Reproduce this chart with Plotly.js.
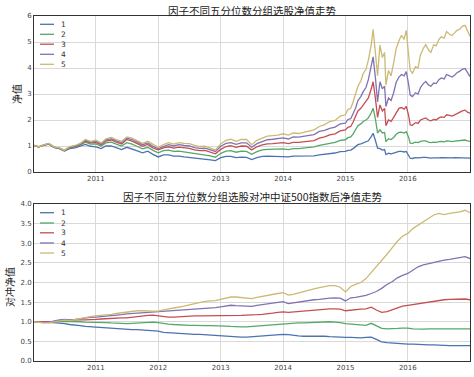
<!DOCTYPE html>
<html>
<head>
<meta charset="utf-8">
<script src="https://cdn.plot.ly/plotly-3.0.1.min.js"></script>
<style>html,body{margin:0;padding:0;background:#fff;}#chart{width:474px;height:377px;}</style>
</head>
<body>
<div id="chart"></div>
<script>
// ---------- Data ----------
const seriesNames = ["1", "2", "3", "4", "5"];
const colors = ["#4C72B0", "#55A868", "#C44E52", "#8172B2", "#CCB974"];

const topTitle = "因子不同五分位数分组选股净值走势";
const bottomTitle = "因子不同五分位数分组选股对冲中证500指数后净值走势";
const topYLabel = "净值";
const bottomYLabel = "对冲净值";

const topDates = [
"2010-01-04","2010-02-01","2010-03-01","2010-04-01","2010-05-01","2010-06-01","2010-07-01","2010-08-01","2010-09-01","2010-10-01","2010-11-01","2010-12-01",
"2011-01-01","2011-02-01","2011-03-01","2011-04-01","2011-05-01","2011-06-01","2011-07-01","2011-08-01","2011-09-01","2011-10-01","2011-11-01","2011-12-01",
"2012-01-01","2012-02-01","2012-03-01","2012-04-01","2012-05-01","2012-06-01","2012-07-01","2012-08-01","2012-09-01","2012-10-01","2012-11-01","2012-12-01",
"2013-01-01","2013-02-01","2013-03-01","2013-04-01","2013-05-01","2013-06-01","2013-07-01","2013-08-01","2013-09-01","2013-10-01","2013-11-01","2013-12-01",
"2014-01-01","2014-02-01","2014-03-01","2014-04-01","2014-05-01","2014-06-01","2014-07-01","2014-08-01","2014-09-01","2014-10-01","2014-11-01","2014-12-01",
"2015-01-01","2015-01-15","2015-02-01","2015-02-15","2015-03-01","2015-03-15","2015-04-01","2015-04-15","2015-05-01","2015-05-15","2015-06-01","2015-06-12","2015-06-25",
"2015-07-08","2015-07-22","2015-08-05","2015-08-18","2015-08-26","2015-09-10","2015-09-25","2015-10-10","2015-10-25","2015-11-10","2015-11-25","2015-12-10","2015-12-23",
"2016-01-05","2016-01-15","2016-01-28","2016-02-15","2016-03-01","2016-03-15","2016-04-01","2016-04-15","2016-05-01","2016-05-15","2016-06-01","2016-06-15",
"2016-07-01","2016-07-15","2016-08-01","2016-08-15","2016-09-01","2016-09-15","2016-10-01","2016-10-15","2016-11-01","2016-11-15","2016-12-01","2016-12-15","2016-12-30"
];

const top1 = [
1.01,0.97,1.02,1.07,0.95,0.90,0.81,0.90,0.93,0.98,1.06,0.99,
0.97,0.90,1.00,1.00,0.93,0.86,0.95,0.89,0.81,0.74,0.80,0.68,
0.58,0.66,0.66,0.61,0.61,0.58,0.56,0.53,0.51,0.51,0.47,0.44,
0.55,0.60,0.60,0.55,0.57,0.56,0.48,0.55,0.60,0.61,0.60,0.60,
0.60,0.58,0.61,0.61,0.62,0.61,0.62,0.66,0.68,0.72,0.73,0.78,
0.79,0.83,0.84,0.90,0.98,1.05,1.08,1.11,1.15,1.20,1.36,1.49,1.22,
0.92,0.90,0.84,0.86,0.67,0.72,0.70,0.73,0.77,0.79,0.79,0.77,0.79,
0.67,0.53,0.52,0.55,0.54,0.56,0.56,0.56,0.54,0.53,0.54,0.53,
0.54,0.55,0.54,0.55,0.55,0.54,0.55,0.55,0.55,0.55,0.55,0.54,0.53
];
const top2 = [
1.01,0.97,1.03,1.08,0.95,0.91,0.82,0.93,0.97,1.03,1.15,1.07,
1.08,1.00,1.12,1.15,1.07,1.00,1.13,1.07,0.98,0.89,0.95,0.83,
0.74,0.82,0.84,0.79,0.80,0.77,0.75,0.70,0.67,0.67,0.62,0.57,
0.72,0.80,0.82,0.76,0.80,0.79,0.68,0.78,0.85,0.87,0.87,0.87,
0.89,0.86,0.90,0.90,0.92,0.95,0.97,1.02,1.06,1.11,1.14,1.22,
1.24,1.32,1.35,1.47,1.62,1.78,1.85,1.94,2.00,2.08,2.28,2.45,2.05,
1.50,1.62,1.50,1.52,1.17,1.28,1.25,1.33,1.45,1.52,1.53,1.50,1.55,
1.35,1.11,1.10,1.15,1.13,1.18,1.20,1.20,1.15,1.13,1.15,1.14,
1.17,1.18,1.16,1.20,1.19,1.17,1.19,1.20,1.21,1.22,1.23,1.20,1.18
];
const top3 = [
1.02,0.97,1.03,1.09,0.96,0.92,0.83,0.95,0.99,1.06,1.19,1.12,
1.14,1.05,1.19,1.23,1.15,1.08,1.25,1.19,1.09,0.99,1.06,0.93,
0.85,0.93,0.97,0.92,0.96,0.93,0.91,0.85,0.82,0.83,0.76,0.70,
0.87,0.98,1.01,0.95,1.00,0.99,0.85,0.97,1.04,1.08,1.09,1.10,
1.13,1.09,1.14,1.14,1.17,1.19,1.21,1.30,1.35,1.43,1.47,1.58,
1.62,1.72,1.75,1.92,2.13,2.35,2.45,2.58,2.70,2.85,3.20,3.47,2.85,
2.10,2.58,2.35,2.45,1.78,2.00,1.95,2.10,2.30,2.45,2.48,2.42,2.52,
2.20,1.81,1.80,1.90,1.87,2.00,2.05,2.08,2.00,1.97,2.02,2.00,
2.08,2.12,2.10,2.20,2.18,2.15,2.20,2.25,2.30,2.35,2.38,2.30,2.26
];
const top4 = [
1.02,0.97,1.04,1.09,0.96,0.92,0.83,0.96,1.00,1.08,1.22,1.15,
1.18,1.09,1.24,1.28,1.20,1.13,1.30,1.25,1.15,1.05,1.12,0.99,
0.90,0.99,1.05,1.00,1.05,1.02,1.00,0.94,0.91,0.92,0.85,0.79,
0.99,1.10,1.13,1.06,1.12,1.12,0.95,1.09,1.17,1.24,1.26,1.28,
1.31,1.27,1.35,1.34,1.38,1.41,1.44,1.56,1.60,1.68,1.73,1.85,
1.88,2.02,2.05,2.25,2.45,2.75,2.90,3.09,3.25,3.55,4.05,4.43,3.65,
2.70,3.47,3.20,3.30,2.52,2.85,2.75,3.05,3.45,3.65,3.75,3.70,3.86,
3.40,2.96,2.90,3.05,3.00,3.25,3.40,3.48,3.35,3.30,3.42,3.40,
3.55,3.62,3.58,3.75,3.70,3.65,3.72,3.82,3.88,3.95,3.98,3.85,3.67
];
const top5 = [
1.02,0.97,1.04,1.10,0.97,0.93,0.84,0.98,1.02,1.10,1.25,1.18,
1.22,1.12,1.28,1.33,1.25,1.18,1.35,1.30,1.20,1.10,1.18,1.05,
0.95,1.05,1.13,1.07,1.13,1.10,1.09,1.02,0.98,0.99,0.92,0.85,
1.08,1.22,1.26,1.18,1.25,1.25,1.05,1.22,1.30,1.38,1.40,1.42,
1.47,1.42,1.50,1.48,1.52,1.58,1.62,1.75,1.82,1.94,1.98,2.15,
2.20,2.40,2.45,2.70,2.96,3.30,3.50,3.79,3.95,4.30,4.90,5.49,4.60,
3.70,4.88,4.40,4.60,3.34,3.90,3.70,4.20,4.75,5.05,5.26,5.10,5.45,
4.55,3.92,3.80,4.05,4.00,4.50,4.76,4.90,4.70,4.60,4.90,4.85,
5.10,5.20,5.15,5.40,5.30,5.25,5.35,5.45,5.50,5.60,5.64,5.45,5.22
];

const bottomDates = [
"2010-01-04","2010-02-01","2010-03-01","2010-04-01","2010-05-01","2010-06-01","2010-07-01","2010-08-01","2010-09-01","2010-10-01","2010-11-01","2010-12-01",
"2011-01-01","2011-02-01","2011-03-01","2011-04-01","2011-05-01","2011-06-01","2011-07-01","2011-08-01","2011-09-01","2011-10-01","2011-11-01","2011-12-01",
"2012-01-01","2012-02-01","2012-03-01","2012-04-01","2012-05-01","2012-06-01","2012-07-01","2012-08-01","2012-09-01","2012-10-01","2012-11-01","2012-12-01",
"2013-01-01","2013-02-01","2013-03-01","2013-04-01","2013-05-01","2013-06-01","2013-07-01","2013-08-01","2013-09-01","2013-10-01","2013-11-01","2013-12-01",
"2014-01-01","2014-02-01","2014-03-01","2014-04-01","2014-05-01","2014-06-01","2014-07-01","2014-08-01","2014-09-01","2014-10-01","2014-11-01","2014-12-01",
"2015-01-01","2015-02-01","2015-03-01","2015-04-01","2015-05-01","2015-06-01","2015-07-01","2015-08-01","2015-09-01","2015-10-01","2015-11-01","2015-12-01",
"2016-01-01","2016-02-01","2016-03-01","2016-04-01","2016-05-01","2016-06-01","2016-07-01","2016-08-01","2016-09-01","2016-10-01","2016-11-01","2016-12-01","2016-12-30"
];

const hedge1 = [
1.00,0.99,0.98,0.98,0.98,0.97,0.95,0.93,0.92,0.90,0.88,0.87,
0.86,0.85,0.84,0.83,0.82,0.81,0.80,0.80,0.80,0.79,0.79,0.78,
0.76,0.73,0.72,0.71,0.70,0.70,0.69,0.68,0.68,0.67,0.66,0.66,
0.65,0.64,0.62,0.61,0.61,0.61,0.62,0.63,0.64,0.65,0.66,0.67,
0.68,0.67,0.65,0.64,0.63,0.63,0.64,0.63,0.63,0.62,0.61,0.61,
0.60,0.60,0.59,0.59,0.60,0.61,0.55,0.49,0.47,0.46,0.44,0.43,
0.43,0.43,0.42,0.42,0.41,0.41,0.40,0.39,0.39,0.39,0.39,0.39,0.39
];
const hedge2 = [
1.00,1.00,0.99,1.00,1.00,1.01,1.01,1.00,1.00,1.00,0.99,0.99,
0.99,0.98,0.98,0.97,0.96,0.96,0.95,0.96,0.97,0.97,0.98,0.99,
0.98,0.95,0.94,0.93,0.92,0.92,0.91,0.91,0.90,0.90,0.90,0.90,
0.90,0.89,0.88,0.87,0.87,0.87,0.88,0.89,0.90,0.91,0.93,0.94,
0.95,0.95,0.96,0.97,0.97,0.98,0.98,0.99,1.00,1.00,0.99,0.98,
0.95,0.94,0.93,0.92,0.91,0.96,0.90,0.83,0.82,0.82,0.83,0.84,
0.84,0.82,0.81,0.81,0.82,0.82,0.82,0.82,0.82,0.82,0.82,0.82,0.82
];
const hedge3 = [
1.00,1.00,0.99,1.00,1.01,1.03,1.04,1.04,1.05,1.05,1.05,1.05,
1.06,1.07,1.08,1.08,1.09,1.10,1.10,1.12,1.14,1.15,1.16,1.17,
1.15,1.13,1.12,1.12,1.13,1.14,1.14,1.15,1.15,1.15,1.15,1.15,
1.15,1.16,1.16,1.16,1.16,1.17,1.17,1.18,1.19,1.20,1.22,1.24,
1.25,1.24,1.25,1.26,1.27,1.28,1.30,1.32,1.32,1.33,1.33,1.32,
1.28,1.30,1.31,1.32,1.33,1.37,1.30,1.24,1.26,1.30,1.36,1.40,
1.42,1.44,1.46,1.48,1.50,1.52,1.55,1.56,1.57,1.57,1.58,1.58,1.56
];
const hedge4 = [
1.00,0.99,0.98,0.99,1.02,1.05,1.06,1.05,1.06,1.08,1.10,1.11,
1.12,1.13,1.14,1.15,1.16,1.18,1.20,1.21,1.22,1.23,1.24,1.25,
1.25,1.27,1.28,1.28,1.29,1.30,1.31,1.31,1.33,1.34,1.35,1.36,
1.38,1.40,1.42,1.41,1.40,1.39,1.39,1.42,1.44,1.46,1.48,1.50,
1.51,1.46,1.48,1.50,1.52,1.54,1.56,1.57,1.59,1.60,1.61,1.60,
1.53,1.61,1.62,1.64,1.67,1.72,1.77,1.85,1.95,2.02,2.12,2.18,
2.23,2.32,2.40,2.45,2.48,2.52,2.55,2.57,2.59,2.61,2.64,2.66,2.61
];
const hedge5 = [
1.00,0.99,0.97,0.98,1.00,1.02,1.04,1.03,1.06,1.09,1.11,1.13,
1.15,1.16,1.17,1.19,1.21,1.23,1.25,1.27,1.28,1.28,1.27,1.27,
1.27,1.31,1.33,1.35,1.37,1.40,1.43,1.46,1.50,1.52,1.53,1.54,
1.57,1.60,1.63,1.63,1.62,1.60,1.59,1.62,1.65,1.68,1.70,1.72,
1.74,1.68,1.70,1.74,1.77,1.80,1.84,1.87,1.90,1.92,1.92,1.88,
1.76,1.90,1.95,2.00,2.10,2.25,2.40,2.55,2.72,2.88,3.05,3.18,
3.25,3.38,3.46,3.55,3.62,3.72,3.76,3.73,3.76,3.78,3.80,3.84,3.78
];

const topSeries = [top1, top2, top3, top4, top5];
const hedgeSeries = [hedge1, hedge2, hedge3, hedge4, hedge5];

// ---------- Geometry helpers (pixel -> paper) ----------
const W = 474, H = 377;
const M = {l: 34, r: 4, t: 16, b: 16};
const PW = W - M.l - M.r, PH = H - M.t - M.b;
const px = x => (x - M.l) / PW;
const py = y => (H - M.b - y) / PH;

const FONT = "DejaVu Sans, Noto Sans CJK SC, sans-serif";
const CJK = "Noto Sans CJK SC, DejaVu Sans, sans-serif";

const traces = [];
topSeries.forEach((s, i) => traces.push({
  x: topDates, y: s, type: "scatter", mode: "lines", name: seriesNames[i],
  line: {color: colors[i], width: 1.3}, xaxis: "x", yaxis: "y", showlegend: false
}));
hedgeSeries.forEach((s, i) => traces.push({
  x: bottomDates, y: s, type: "scatter", mode: "lines", name: seriesNames[i],
  line: {color: colors[i], width: 1.3}, xaxis: "x2", yaxis: "y2", showlegend: false
}));

const xCommon = {
  type: "date", range: ["2010-01-04", "2016-12-30"],
  tickvals: ["2011-01-01","2012-01-01","2013-01-01","2014-01-01","2015-01-01","2016-01-01"],
  ticktext: ["2011","2012","2013","2014","2015","2016"],
  showgrid: true, gridcolor: "#d9d9d9", gridwidth: 1,
  showline: true, linecolor: "#333", linewidth: 1, mirror: true,
  ticks: "", zeroline: false,
  tickfont: {family: FONT, size: 7, color: "#444"}
};
const yCommon = {
  showgrid: true, gridcolor: "#d9d9d9", gridwidth: 1,
  showline: true, linecolor: "#333", linewidth: 1, mirror: true,
  ticks: "", zeroline: false,
  tickfont: {family: FONT, size: 7, color: "#444"}
};

const annotations = [
  {text: topTitle, xref: "paper", yref: "paper", x: 0.5, y: py(10), xanchor: "center", yanchor: "middle", showarrow: false, font: {family: CJK, size: 10.5, color: "#222"}},
  {text: bottomTitle, xref: "paper", yref: "paper", x: 0.5, y: py(197), xanchor: "center", yanchor: "middle", showarrow: false, font: {family: CJK, size: 10.5, color: "#222"}},
  {text: topYLabel, xref: "paper", yref: "paper", x: px(16), y: py(94), xanchor: "center", yanchor: "middle", textangle: -90, showarrow: false, font: {family: CJK, size: 10, color: "#222"}},
  {text: bottomYLabel, xref: "paper", yref: "paper", x: px(9), y: py(287), xanchor: "center", yanchor: "middle", textangle: -90, showarrow: false, font: {family: CJK, size: 10, color: "#222"}}
];
const shapes = [];
// manual legends (matplotlib-like compact legend)
const legendRowsTop = [24.3, 34.3, 44.2, 54.3, 64.3];
const legendRowsBot = [212.7, 223, 232.8, 243, 253];
[legendRowsTop, legendRowsBot].forEach(rows => {
  rows.forEach((yy, i) => {
    shapes.push({type: "line", xref: "paper", yref: "paper", x0: px(40), x1: px(54), y0: py(yy), y1: py(yy), line: {color: colors[i], width: 1.3}});
    annotations.push({text: seriesNames[i], xref: "paper", yref: "paper", x: px(59), y: py(yy), xanchor: "left", yanchor: "middle", showarrow: false, font: {family: FONT, size: 7.5, color: "#333"}});
  });
});

const layout = {
  width: W, height: H,
  margin: M,
  paper_bgcolor: "#fff", plot_bgcolor: "#fff",
  showlegend: false,
  xaxis: Object.assign({}, xCommon, {domain: [0, 1], anchor: "y"}),
  yaxis: Object.assign({}, yCommon, {domain: [py(172), 1], range: [0, 6], tickvals: [0,1,2,3,4,5,6], anchor: "x"}),
  xaxis2: Object.assign({}, xCommon, {domain: [0, 1], anchor: "y2"}),
  yaxis2: Object.assign({}, yCommon, {domain: [0, py(204)], range: [0, 4], tickvals: [0,0.5,1,1.5,2,2.5,3,3.5,4], ticktext: ["0.0","0.5","1.0","1.5","2.0","2.5","3.0","3.5","4.0"], anchor: "x2"}),
  annotations: annotations,
  shapes: shapes
};

Plotly.newPlot("chart", traces, layout, {displayModeBar: false, staticPlot: true});
</script>
</body>
</html>
